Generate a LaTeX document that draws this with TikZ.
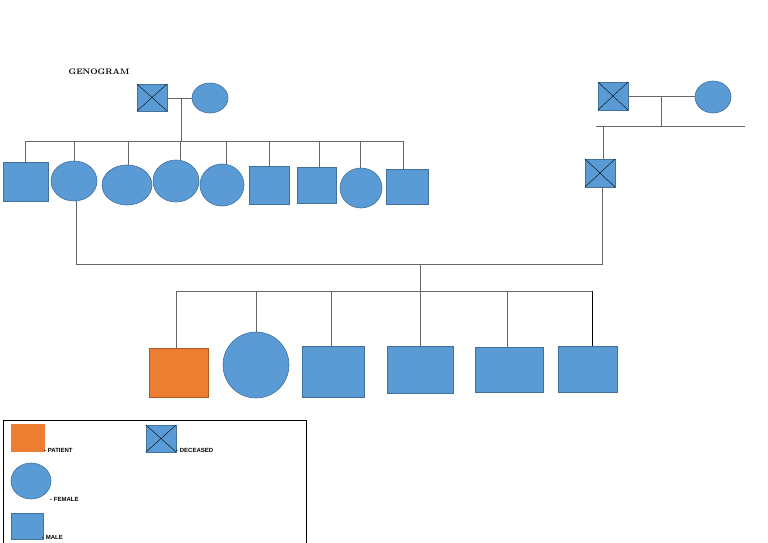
\documentclass[tikz,border=0pt]{standalone}
\usepackage{fontspec}
\setsansfont{Liberation Sans}
\begin{document}
\begin{tikzpicture}[x=1pt,y=-1pt,
 fillb/.style={fill={rgb,255:red,91;green,155;blue,213},draw={rgb,255:red,65;green,113;blue,156},line width=0.6pt},
 lin/.style={draw=gray!80!black,line width=0.6pt},
 lab/.style={font=\sffamily\bfseries\fontsize{6}{7}\selectfont,anchor=south west,inner sep=0pt}]
\useasboundingbox (0,0) rectangle (768,543);
\node[font=\rmfamily\bfseries\fontsize{8}{9}\selectfont] (title) at (99,72) {GENOGRAM};
% grandparents left
\draw[fillb] (137,84) rectangle (167,111); \draw (137,84)--(167,111) (167,84)--(137,111);
\draw[fillb] (210,98) ellipse (18 and 15);
\draw[lin] (167,98)--(192,98) (181,98)--(181,141) (25,141)--(403,141);
% children row
\draw[lin] (25,141)--(25,162) (74,141)--(74,161) (128,141)--(128,165) (180,141)--(180,160) (226,141)--(226,164) (269,141)--(269,166) (319,141)--(319,167) (360,141)--(360,168) (403,141)--(403,169);
\draw[fillb] (3,162) rectangle (48,201);
\draw[fillb] (74,181) ellipse (23 and 20);
\draw[fillb] (127,185) ellipse (25 and 20);
\draw[fillb] (176,181) ellipse (23 and 21);
\draw[fillb] (222,185) ellipse (22 and 21);
\draw[fillb] (249,166) rectangle (289,204);
\draw[fillb] (297,167) rectangle (336,203);
\draw[fillb] (361,188) ellipse (21 and 20);
\draw[fillb] (386,169) rectangle (428,204);
% right grandparents
\draw[fillb] (598,82) rectangle (628,110); \draw (598,82)--(628,110) (628,82)--(598,110);
\draw[fillb] (713,97) ellipse (18 and 16);
\draw[lin] (628,96)--(695,96) (661,96)--(661,126) (596,126)--(745,126) (603,126)--(603,159);
\draw[fillb] (585,159) rectangle (615,187); \draw (585,159)--(615,187) (615,159)--(585,187);
% marriage
\draw[lin] (76,201)--(76,264)--(602,264)--(602,187);
\draw[lin] (420,264)--(420,291) (176,291)--(592,291);
\draw[lin] (176,291)--(176,348) (256,291)--(256,332) (331,291)--(331,346) (420,291)--(420,346) (507,291)--(507,347);
\draw[black,line width=0.6pt] (592,291)--(592,346);
\draw[fill={rgb,255:red,237;green,125;blue,49},draw={rgb,255:red,174;green,90;blue,33},line width=0.6pt] (149,348) rectangle (208,397);
\draw[fillb] (256,365) circle (33);
\draw[fillb] (302,346) rectangle (364,397);
\draw[fillb] (387,346) rectangle (453,393);
\draw[fillb] (475,347) rectangle (543,392);
\draw[fillb] (558,346) rectangle (617,392);
% legend
\draw[black,line width=0.6pt] (3,545)--(3,420)--(306,420)--(306,545);
\draw[fill={rgb,255:red,237;green,125;blue,49},draw=none] (11,424) rectangle (45,452);
\node[lab] (lp) at (44,453) {- PATIENT};
\draw[fillb] (146,425) rectangle (176,452); \draw (146,425)--(176,452) (176,425)--(146,452);
\node[lab] (ld) at (176,453) {- DECEASED};
\draw[fillb] (31,481) ellipse (20 and 18);
\node[lab] (lf) at (50,502) {- FEMALE};
\draw[fillb] (11,513) rectangle (43,539);
\node[lab] (lm) at (42,540) {- MALE};
\end{tikzpicture}
\end{document}
